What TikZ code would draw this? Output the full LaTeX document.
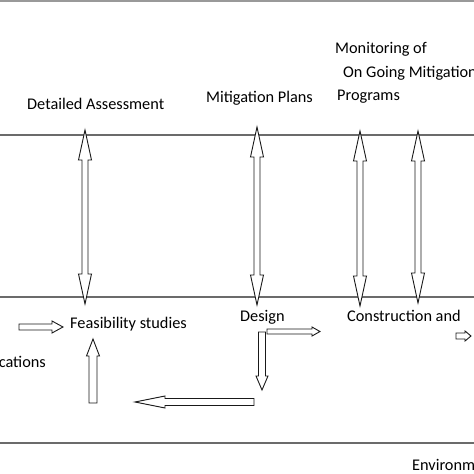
\documentclass[tikz,border=0pt]{standalone}
\usepackage{fontspec}
\setmainfont{Carlito}
\begin{document}
\begin{tikzpicture}[x=1pt,y=-1pt,
  rule/.style={draw=black!58, line width=1.1pt},
  border/.style={draw=black!40, line width=2.5pt},
  blockarrow/.style={draw=black!90, line width=0.9pt, fill=white, line join=miter},
  lbl/.style={font=\fontsize{16.3}{19}\selectfont, inner sep=0pt, anchor=base west, text=black}]
\clip (0,0) rectangle (474,474);
\useasboundingbox (0,0) rectangle (474,474);
% horizontal rules
\draw[border] (0,0.5) -- (474,0.5);
\draw[rule] (0,135) -- (474,135);
\draw[rule] (0,297) -- (474,297);
\draw[rule] (0,443) -- (474,443);
% double arrows: x, ytop, ybot, shaft half width, head half width, head length
\newcommand{\dblarrow}[6]{%
  \draw[blockarrow] (#1,#2) -- ({#1+#5},{#2+#6}) -- ({#1+#4},{#2+#6}) -- ({#1+#4},{#3-#6}) -- ({#1+#5},{#3-#6}) -- (#1,#3)
   -- ({#1-#5},{#3-#6}) -- ({#1-#4},{#3-#6}) -- ({#1-#4},{#2+#6}) -- ({#1-#5},{#2+#6}) -- cycle;}
\dblarrow{85}{130}{304}{3}{6.5}{30}
\dblarrow{257}{127}{305}{3}{6.5}{30}
\dblarrow{360}{131}{306}{3}{6.5}{30}
\dblarrow{418}{131}{303}{3}{6.5}{30}
% single block arrows: start point, length, shaft half width, head half width, head length, rotation
\newcommand{\blockarr}[6]{%
  \draw[blockarrow, shift={#1}, rotate=#6] (0,-#3) -- ({#2-#5},-#3) -- ({#2-#5},-#4) -- (#2,0) -- ({#2-#5},#4) -- ({#2-#5},#3) -- (0,#3) -- cycle;}
\blockarr{(19,327)}{44}{3}{6}{11}{0}
\blockarr{(93,403)}{64}{4}{6.5}{17}{90}
\blockarr{(254,402)}{119}{3.5}{6}{30}{180}
\blockarr{(262,332)}{58}{3.5}{6}{14}{-90}
\blockarr{(267,331.5)}{53}{2.5}{4.5}{8}{0}
\blockarr{(456,336)}{15}{3}{5}{6}{0}
% labels
\node[lbl] (da) at (27,109) {Detailed Assessment};
\node[lbl] (mp) at (206,102) {Mitigation Plans};
\node[lbl] (mo1) at (335,53) {Monitoring of};
\node[lbl] (mo2) at (343,77) {On Going Mitigation};
\node[lbl] (mo3) at (337,100) {Programs};
\node[lbl] (fs) at (70,328) {Feasibility studies};
\node[lbl, anchor=base east] (ca) at (46,367) {cations};
\node[lbl] (de) at (240,321) {Design};
\node[lbl] (co) at (347,321) {Construction and};
\node[lbl] (en) at (412,470) {Environm};
\end{tikzpicture}
\end{document}
